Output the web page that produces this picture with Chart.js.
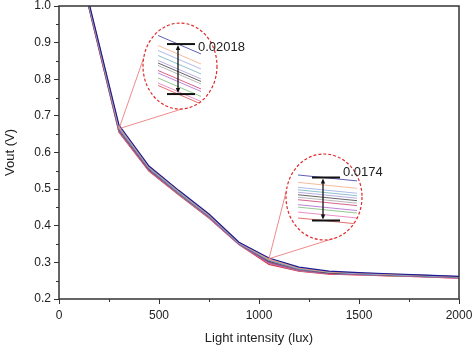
<!DOCTYPE html>
<html>
<head>
<meta charset="utf-8">
<script src="https://cdn.jsdelivr.net/npm/chart.js@4/dist/chart.umd.min.js"></script>
<style>
  html, body { margin: 0; padding: 0; background: #fff; }
  #wrap { width: 474px; height: 348px; }
</style>
</head>
<body>
<div id="wrap"><canvas id="voutChart" width="474" height="348"></canvas></div>
<script>
// light intensity (lux) of each measured point
const LUX = [100, 300, 450, 600, 750, 900, 1050, 1200, 1350, 1500, 1650, 1800, 2000];

// Vout (V) of each device
const V1  = [1.120, 0.675, 0.563, 0.496, 0.432, 0.355, 0.312, 0.287, 0.276, 0.272, 0.269, 0.266, 0.262];
const V2  = [1.118, 0.671, 0.561, 0.494, 0.430, 0.354, 0.309, 0.285, 0.274, 0.271, 0.268, 0.265, 0.261];
const V3  = [1.116, 0.669, 0.560, 0.493, 0.429, 0.353, 0.307, 0.284, 0.274, 0.270, 0.267, 0.265, 0.261];
const V4  = [1.115, 0.667, 0.558, 0.491, 0.428, 0.353, 0.306, 0.283, 0.273, 0.270, 0.267, 0.264, 0.260];
const V5  = [1.114, 0.665, 0.557, 0.490, 0.427, 0.352, 0.305, 0.282, 0.273, 0.269, 0.266, 0.264, 0.260];
const V6  = [1.113, 0.664, 0.556, 0.490, 0.427, 0.352, 0.304, 0.282, 0.272, 0.269, 0.266, 0.264, 0.260];
const V7  = [1.112, 0.663, 0.555, 0.489, 0.426, 0.351, 0.303, 0.281, 0.272, 0.268, 0.266, 0.263, 0.259];
const V8  = [1.111, 0.661, 0.553, 0.488, 0.425, 0.351, 0.302, 0.280, 0.271, 0.268, 0.265, 0.263, 0.259];
const V9  = [1.110, 0.660, 0.552, 0.487, 0.424, 0.350, 0.300, 0.279, 0.270, 0.267, 0.265, 0.262, 0.258];
const V10 = [1.109, 0.658, 0.551, 0.486, 0.423, 0.350, 0.299, 0.278, 0.270, 0.267, 0.264, 0.262, 0.258];
const V11 = [1.108, 0.656, 0.550, 0.485, 0.422, 0.349, 0.297, 0.277, 0.269, 0.266, 0.264, 0.261, 0.257];
const V12 = [1.107, 0.655, 0.549, 0.484, 0.421, 0.349, 0.2946, 0.276, 0.268, 0.266, 0.263, 0.261, 0.257];

const SERIES = [V1, V2, V3, V4, V5, V6, V7, V8, V9, V10, V11, V12];
const COLORS = ["#1c1c9a", "#f0a070", "#8aa0e0", "#5aa8b5", "#9a8ad8", "#222222",
                "#9a9a9a", "#c8205a", "#a050c8", "#6ab06a", "#e060b0", "#d83030"];

const X_TICKS = [0, 500, 1000, 1500, 2000];
const Y_TICKS = [0.2, 0.3, 0.4, 0.5, 0.6, 0.7, 0.8, 0.9, 1.0];

// zoomed insets: which point they magnify, where the circle sits (data units) and the spread label
const INSETS = [
  { index: 1, centerLux: 605, centerV: 0.836, rx: 37, ry: 43, barH: 50, yShift: 3,
    left: -22, right: 21, slope: 0.43, barDx: -2, label: "0.02018", labelDy: 3,
    anchorLux: 300, anchorV: 0.665, linkT: [3.33, 1.52] },
  { index: 6, centerLux: 1325, centerV: 0.4785, rx: 38, ry: 43, barH: 43, yShift: 2,
    left: -26, right: 33, slope: 0.1, barDx: -1, label: "0.0174", labelDy: -5,
    anchorLux: 1050, anchorV: 0.31, linkT: [3.30, 1.22] }
];

const FONT = "'Liberation Sans', Arial, sans-serif";

const datasets = SERIES.map((values, i) => ({
  data: values.map((v, j) => ({ x: LUX[j], y: v })),
  borderColor: COLORS[i],
  borderWidth: 1.2,
  pointRadius: 0,
  tension: 0,
  fill: false
}));

function noPadding(scale) {
  scale.paddingTop = 0;
  scale.paddingBottom = 0;
  scale.paddingLeft = 0;
  scale.paddingRight = 0;
}

const framePlugin = {
  id: "frame",
  afterDraw(chart) {
    const { ctx, chartArea: a, scales } = chart;
    ctx.save();
    ctx.strokeStyle = "#333";
    ctx.lineWidth = 1;
    // minor ticks
    for (let x = 250; x < 2000; x += 500) {
      const px = Math.round(scales.x.getPixelForValue(x)) + 0.5;
      ctx.beginPath();
      ctx.moveTo(px, a.bottom);
      ctx.lineTo(px, a.bottom + 3);
      ctx.stroke();
    }
    for (let k = 0; k < 8; k++) {
      const py = Math.round(scales.y.getPixelForValue(0.25 + k * 0.1)) + 0.5;
      ctx.beginPath();
      ctx.moveTo(a.left, py);
      ctx.lineTo(a.left - 3, py);
      ctx.stroke();
    }
    ctx.lineWidth = 1.5;
    ctx.strokeRect(a.left, a.top, a.right - a.left, a.bottom - a.top);
    ctx.restore();
  }
};

const insetPlugin = {
  id: "insets",
  afterDatasetsDraw(chart) {
    const { ctx, scales } = chart;
    INSETS.forEach((inset) => {
      const cx = scales.x.getPixelForValue(inset.centerLux);
      const cy = scales.y.getPixelForValue(inset.centerV);
      const ax = scales.x.getPixelForValue(inset.anchorLux);
      const ay = scales.y.getPixelForValue(inset.anchorV);
      const vals = SERIES.map((s) => s[inset.index]);
      const vmax = Math.max(...vals);
      const vmin = Math.min(...vals);
      const k = inset.barH / (vmax - vmin);
      const vmid = (vmax + vmin) / 2;
      const midY = cy + inset.yShift;
      const barX = cx + inset.barDx;

      ctx.save();
      // links from the magnified point to the circle
      ctx.strokeStyle = "#f08a8a";
      ctx.lineWidth = 1;
      inset.linkT.forEach((t) => {
        ctx.beginPath();
        ctx.moveTo(ax, ay);
        ctx.lineTo(cx + inset.rx * Math.cos(t), cy + inset.ry * Math.sin(t));
        ctx.stroke();
      });
      // white disc
      ctx.beginPath();
      ctx.ellipse(cx, cy, inset.rx, inset.ry, 0, 0, Math.PI * 2);
      ctx.fillStyle = "#fff";
      ctx.fill();
      ctx.save();
      ctx.clip();
      // magnified lines, drawn bottom to top so the first series sits on top
      for (let i = vals.length - 1; i >= 0; i--) {
        const yAtBar = midY + (vmid - vals[i]) * k;
        ctx.strokeStyle = COLORS[i];
        ctx.globalAlpha = 0.7;
        ctx.lineWidth = 1;
        ctx.beginPath();
        ctx.moveTo(cx + inset.left, yAtBar + (inset.left - inset.barDx) * inset.slope);
        ctx.lineTo(cx + inset.right, yAtBar + (inset.right - inset.barDx) * inset.slope);
        ctx.stroke();
      }
      ctx.restore();
      // dashed circle
      ctx.beginPath();
      ctx.ellipse(cx, cy, inset.rx, inset.ry, 0, 0, Math.PI * 2);
      ctx.setLineDash([3, 2]);
      ctx.strokeStyle = "#e02a2a";
      ctx.lineWidth = 1.2;
      ctx.stroke();
      ctx.setLineDash([]);

      // spread bar
      const yTop = midY + (vmid - vmax) * k;
      const yBot = midY + (vmid - vmin) * k;
      ctx.strokeStyle = "#111";
      ctx.fillStyle = "#111";
      ctx.lineWidth = 2;
      [yTop, yBot].forEach((y) => {
        ctx.beginPath();
        ctx.moveTo(barX - 11, y);
        ctx.lineTo(barX + 17, y);
        ctx.stroke();
      });
      ctx.lineWidth = 1.3;
      ctx.beginPath();
      ctx.moveTo(barX, yTop + 3);
      ctx.lineTo(barX, yBot - 3);
      ctx.stroke();
      [[yTop + 1, 1], [yBot - 1, -1]].forEach(([y, dir]) => {
        ctx.beginPath();
        ctx.moveTo(barX, y);
        ctx.lineTo(barX - 2.2, y + dir * 5);
        ctx.lineTo(barX + 2.2, y + dir * 5);
        ctx.closePath();
        ctx.fill();
      });
      ctx.font = "13px " + FONT;
      ctx.textBaseline = "middle";
      ctx.fillStyle = "#222";
      ctx.fillText(inset.label, barX + 20, yTop + inset.labelDy);
      ctx.restore();
    });
  }
};

new Chart(document.getElementById("voutChart"), {
  type: "line",
  data: { datasets },
  options: {
    responsive: false,
    animation: false,
    layout: { padding: { top: 6, right: 15, left: 0, bottom: 0 } },
    plugins: { legend: { display: false }, tooltip: { enabled: false } },
    scales: {
      x: {
        type: "linear",
        min: 0,
        max: 2000,
        afterBuildTicks: (scale) => { scale.ticks = X_TICKS.map((v) => ({ value: v })); },
        afterFit: (scale) => { scale.height = 49; noPadding(scale); },
        ticks: { color: "#222", font: { family: FONT, size: 12 }, padding: 4, maxRotation: 0,
                 callback: (v) => String(v) },
        grid: { drawOnChartArea: false, tickLength: 5, color: "#333", tickWidth: 1 },
        border: { display: false },
        title: { display: true, text: "Light intensity (lux)", color: "#222",
                 font: { family: FONT, size: 13 }, padding: { top: 4, bottom: 2 } }
      },
      y: {
        type: "linear",
        min: 0.2,
        max: 1.0,
        afterBuildTicks: (scale) => { scale.ticks = Y_TICKS.map((v) => ({ value: v })); },
        afterFit: (scale) => { scale.width = 59; noPadding(scale); },
        ticks: { color: "#222", font: { family: FONT, size: 12 }, padding: 3,
                 callback: (v) => Number(v).toFixed(1) },
        grid: { drawOnChartArea: false, tickLength: 5, color: "#333", tickWidth: 1 },
        border: { display: false },
        title: { display: true, text: "Vout (V)", color: "#222",
                 font: { family: FONT, size: 13 }, padding: { top: 3, bottom: 2 } }
      }
    }
  },
  plugins: [framePlugin, insetPlugin]
});
</script>
</body>
</html>
